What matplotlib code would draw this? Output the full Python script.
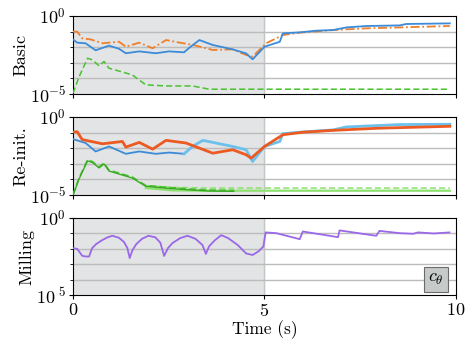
import numpy as np
import matplotlib.pyplot as plt
from matplotlib.ticker import FixedLocator, NullFormatter

plt.rcParams['font.family'] = 'cmr10'
plt.rcParams['mathtext.fontset'] = 'cm'
plt.rcParams['axes.formatter.use_mathtext'] = True
plt.rcParams['font.size'] = 13

# values are log10 of the error
# --- Basic ---
basic_blue_t = [0, 0.11, 0.33, 0.59, 0.94, 1.2, 1.38, 1.73, 2.16, 2.51, 2.9, 3.03, 3.3, 3.65, 4.17, 4.52, 4.69, 5.0, 5.4, 5.48, 5.91, 6.35, 6.79, 7.14, 7.66, 8.53, 8.7, 9.84]
basic_blue_v = [-1.5, -1.71, -1.75, -2.2, -1.9, -2.1, -2.39, -2.27, -2.39, -2.27, -2.33, -2.05, -1.54, -1.86, -2.14, -2.4, -2.78, -1.97, -1.65, -1.11, -1.05, -0.94, -0.9, -0.73, -0.64, -0.6, -0.51, -0.47]
basic_orange_t = [0, 0.11, 0.24, 0.46, 0.77, 1.2, 1.38, 1.73, 2.08, 2.43, 2.79, 3.14, 3.65, 4.17, 4.52, 4.69, 5.04, 5.48, 5.91, 6.79, 7.66, 8.53, 9.84]
basic_orange_v = [-1.0, -1.0, -1.43, -1.5, -1.75, -1.65, -1.97, -1.71, -2.07, -1.54, -1.71, -1.86, -2.18, -2.14, -2.5, -2.61, -1.75, -1.22, -1.07, -0.9, -0.79, -0.73, -0.64]
basic_green_t = [0, 0.16, 0.38, 0.51, 0.68, 0.81, 0.94, 1.55, 1.9, 2.43, 3.12, 3.56, 5.0, 7.5, 9.84]
basic_green_v = [-4.96, -3.9, -2.71, -2.82, -3.2, -2.92, -3.35, -3.78, -4.42, -4.49, -4.49, -4.7, -4.7, -4.7, -4.7]

# --- Re-init. ---
re_blue_t = [0, 0.33, 0.59, 0.94, 1.38, 1.73, 2.16, 2.51, 2.9, 3.12]
re_blue_v = [-1.42, -1.67, -2.21, -1.89, -2.36, -2.21, -2.36, -2.28, -2.36, -1.89]
re_lblue_t = [2.9, 3.12, 3.39, 3.65, 4.17, 4.52, 4.69, 5.0, 5.4, 5.48, 5.91, 6.79, 7.14, 8.53, 9.84]
re_lblue_v = [-2.36, -1.89, -1.5, -1.63, -1.89, -2.1, -2.85, -1.89, -1.57, -1.07, -0.98, -0.83, -0.64, -0.49, -0.47]
re_orange_t = [0, 0.11, 0.24, 0.77, 1.29, 1.38, 1.73, 2.08, 2.43, 2.95, 3.65, 4.17, 4.52, 4.65, 5.0, 5.48, 6.0, 6.79, 8.0, 9.84]
re_orange_v = [-0.97, -0.95, -1.45, -1.72, -1.57, -1.93, -1.63, -2.06, -1.5, -1.67, -2.32, -2.1, -2.42, -2.64, -1.89, -1.14, -0.98, -0.86, -0.72, -0.6]
re_green_t = [0, 0.16, 0.38, 0.51, 0.68, 0.81, 0.94, 1.55, 1.9, 2.43, 3.12, 3.56, 4.2]
re_green_v = [-4.96, -3.9, -2.75, -2.86, -3.2, -2.95, -3.4, -3.85, -4.38, -4.5, -4.62, -4.68, -4.7]
re_lgreen_t = [1.9, 2.6, 3.5, 5.0, 7.5, 9.84]
re_lgreen_a = [-4.4, -4.5, -4.55, -4.55, -4.55, -4.55]
re_lgreen_b = [-4.55, -4.7, -4.72, -4.72, -4.72, -4.72]

# --- Milling ---
mill_t = [0, 0.11, 0.24, 0.33, 0.42, 0.5, 0.6, 0.75, 0.9, 1.03, 1.2, 1.33, 1.42, 1.48, 1.55, 1.65, 1.8, 1.97,
          2.15, 2.28, 2.38, 2.48, 2.6, 2.8, 2.99, 3.2, 3.38, 3.47, 3.55, 3.7, 3.87, 4.05, 4.3, 4.52, 4.69, 4.85,
          4.97, 5.03, 5.31, 5.92, 6.0, 6.92, 6.96, 7.92, 8.0, 8.53, 8.88, 9.01, 9.42, 9.83]
mill_v = [-1.96, -2.0, -2.45, -2.5, -2.5, -1.95, -1.7, -1.45, -1.25, -1.15, -1.28, -1.55, -1.95, -2.6, -2.1, -1.7,
          -1.35, -1.15, -1.25, -1.6, -2.46, -1.95, -1.62, -1.3, -1.15, -1.35, -1.75, -2.33, -1.85, -1.45, -1.11,
          -1.3, -1.75, -2.3, -2.4, -2.15, -1.85, -0.93, -0.98, -1.37, -0.87, -1.24, -0.8, -1.15, -0.83, -0.98,
          -1.02, -0.93, -1.0, -0.93]

blue = '#3b8bd9'
lblue = '#6cc0ec'
orange = '#f07f2a'
redorange = '#ec5a22'
green = '#49c22f'
lgreen = '#8ee070'
purple = '#9a68e8'

fig = plt.figure(figsize=(4.74, 3.49), dpi=100)
left, width = 0.154, 0.808
ax1 = fig.add_axes([left, 0.731, width, 0.223])
ax2 = fig.add_axes([left, 0.441, width, 0.224])
ax3 = fig.add_axes([left, 0.155, width, 0.220])


def p(v):
    return 10.0 ** np.array(v)


ax1.plot(basic_blue_t, p(basic_blue_v), color=blue, lw=1.3, zorder=4)
ax1.plot(basic_orange_t, p(basic_orange_v), color=orange, lw=1.3, ls=(0, (5, 1.5, 1, 1.5)), zorder=3)
ax1.plot(basic_green_t, p(basic_green_v), color=green, lw=1.1, ls=(0, (4, 2)), zorder=3)

ax2.plot(re_lgreen_t, p(re_lgreen_a), color=lgreen, lw=1.1, ls=(0, (4, 2)), zorder=3)
ax2.plot(re_lgreen_t, p(re_lgreen_b), color=lgreen, lw=1.6, zorder=3)
ax2.plot(re_green_t, p(re_green_v), color=green, lw=1.2, ls=(0, (4, 2)), zorder=3)
ax2.plot(re_green_t, p(np.array(re_green_v) - 0.06), color='#3aaa25', lw=1.0, zorder=3)
ax2.plot(re_blue_t, p(re_blue_v), color=blue, lw=1.3, zorder=4)
ax2.plot(re_lblue_t, p(re_lblue_v), color=lblue, lw=2.0, zorder=4)
ax2.plot(re_orange_t, p(re_orange_v), color=redorange, lw=2.0, zorder=5)

ax3.plot(mill_t, p(mill_v), color=purple, lw=1.3, zorder=4)

for ax, lab in [(ax1, 'Basic'), (ax2, 'Re-init.'), (ax3, 'Milling')]:
    ax.set_yscale('log')
    ax.set_xlim(0, 10)
    ax.set_ylim(1e-5, 1)
    ax.axvspan(0, 5, color='#e2e4e5', zorder=0)
    ax.axvline(5, color='#c4c6c6', lw=1, zorder=1)
    for e in [-1, -2, -3, -4]:
        ax.axhline(10.0 ** e, color='#bcbcbc', lw=1, zorder=1)
    ax.set_yticks([1e-5, 1])
    ax.yaxis.set_minor_locator(FixedLocator([1e-4, 1e-3, 1e-2, 1e-1]))
    ax.yaxis.set_minor_formatter(NullFormatter())
    ax.set_xticks([0, 5, 10])
    ax.tick_params(direction='out', length=3, width=0.8, pad=2)
    ax.tick_params(which='minor', length=2, width=0.6)
    ax.set_ylabel(lab, labelpad=1)
    for s in ax.spines.values():
        s.set_linewidth(0.8)

ax1.set_yticklabels([r'$10^{-5}$', r'$10^{0}$'])
ax2.set_yticklabels([r'$10^{-5}$', r'$10^{0}$'])
ax3.set_yticklabels([r'$10^{\ 5}$', r'$10^{0}$'])
ax1.set_xticklabels([])
ax2.set_xticklabels([])
ax3.set_xlabel('Time (s)', labelpad=1, fontsize=12.5)

ax3.text(0.968, 0.1, r'$c_\theta$', transform=ax3.transAxes, ha='right', va='bottom',
         fontsize=13, bbox=dict(boxstyle='square,pad=0.25', facecolor='#c6cbca', edgecolor='#6a6a6a', lw=0.8),
         zorder=6)

fig.savefig('out.png', dpi=100)
